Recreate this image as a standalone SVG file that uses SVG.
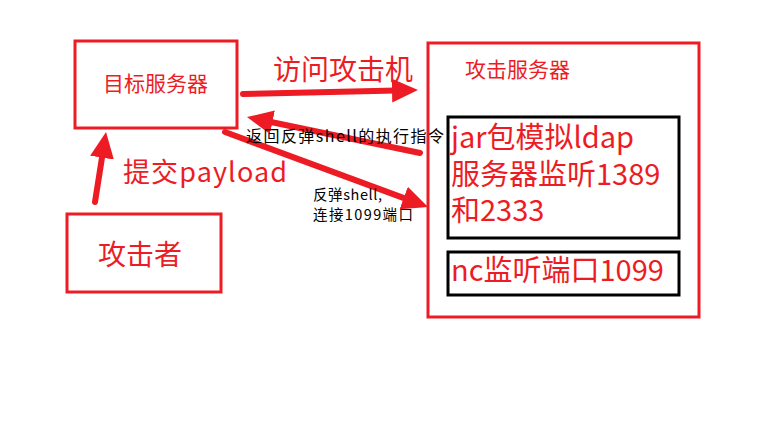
<svg xmlns="http://www.w3.org/2000/svg" width="775" height="447" viewBox="0 0 775 447">
<defs>
<style>
.rbox{fill:none;stroke:#ed1c24;stroke-width:3}
.kbox{fill:none;stroke:#000;stroke-width:3}
.t{font-family:"Microsoft YaHei","Noto Sans CJK SC","Noto Sans",sans-serif}
.red{fill:#ed1c24}
.blk{fill:#000}
.arr{fill:none;stroke:#ed1c24;stroke-width:6;stroke-linecap:round;marker-end:url(#ah)}
</style>
<marker id="ah" markerUnits="userSpaceOnUse" markerWidth="26" markerHeight="24" viewBox="0 0 26 24" refX="4" refY="12" orient="auto">
<path d="M0,0 L26,12 L0,24 z" fill="#ed1c24"/>
</marker>
</defs>
<rect width="775" height="447" fill="#fff"/>
<g id="target-server">
<rect class="rbox" x="75" y="41" width="162" height="87"/>
<text class="t red" x="103" y="91" font-size="21">目标服务器</text>
</g>
<g id="attacker">
<rect class="rbox" x="67" y="214" width="154" height="78"/>
<text class="t red" x="98" y="265" font-size="28">攻击者</text>
</g>
<g id="attack-server">
<rect class="rbox" x="428" y="43" width="271" height="274"/>
<text class="t red" x="465" y="77" font-size="21">攻击服务器</text>
</g>
<g id="jar-ldap">
<rect class="kbox" x="448" y="117" width="231" height="121"/>
<text class="t red" font-size="29"><tspan x="451" y="148">jar包模拟ldap</tspan><tspan x="451" y="185">服务器监听1389</tspan><tspan x="451" y="221">和2333</tspan></text>
</g>
<g id="nc-listen">
<rect class="kbox" x="448" y="252" width="231" height="43"/>
<text class="t red" x="451" y="281" font-size="29">nc监听端口1099</text>
</g>
<g id="connectors">
<path class="arr" d="M243,94 L396,90.5"/>
<path class="arr" d="M420,153 L268.5,121.5"/>
<path class="arr" d="M225,132 L407.4,199.4"/>
<path class="arr" d="M95,202 L102.6,153.7"/>
</g>
<g id="labels">
<text class="t red" x="273" y="80" font-size="28">访问攻击机</text>
<text class="t red" x="123" y="182" font-size="27" textLength="164" lengthAdjust="spacing">提交payload</text>
<text class="t blk" x="246" y="142" font-size="16" textLength="198" lengthAdjust="spacing">返回反弹shell的执行指令</text>
<text class="t blk" x="313" y="200" font-size="14.5" textLength="69" lengthAdjust="spacing">反弹shell,</text>
<text class="t blk" x="313" y="220" font-size="14.5" textLength="100" lengthAdjust="spacing">连接1099端口</text>
</g>
</svg>
